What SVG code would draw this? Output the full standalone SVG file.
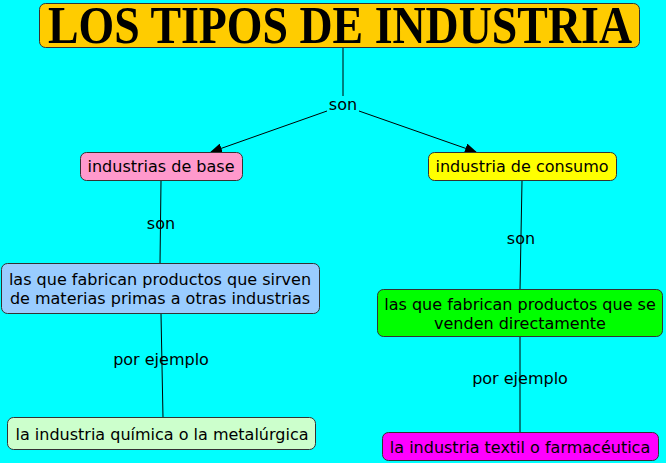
<svg xmlns="http://www.w3.org/2000/svg" width="666" height="463" viewBox="0 0 666 463">
<defs>
<style>
.node rect{stroke:#333;stroke-width:1}
.t{font-family:"DejaVu Sans",Verdana,sans-serif;font-size:16px;fill:#000;text-anchor:middle}
.lbl{font-family:"DejaVu Sans",Verdana,sans-serif;font-size:16px;fill:#000;text-anchor:middle}
.c{stroke:#000;stroke-width:1;fill:none}
</style>
<marker id="arr" markerWidth="12" markerHeight="10" refX="11" refY="5" orient="auto" markerUnits="userSpaceOnUse">
<path d="M0,0 L12,5 L0,10 z" fill="#000"/>
</marker>
</defs>
<rect x="0" y="0" width="666" height="463" fill="#00FFFF"/>
<g id="connectors">
<line class="c" x1="343" y1="48" x2="343" y2="96"/>
<line class="c" x1="327" y1="111" x2="211" y2="152" marker-end="url(#arr)"/>
<line class="c" x1="359" y1="111" x2="476" y2="152" marker-end="url(#arr)"/>
<line class="c" x1="161" y1="181" x2="160" y2="264"/>
<line class="c" x1="161" y1="314" x2="163" y2="418"/>
<line class="c" x1="522" y1="181" x2="520" y2="290"/>
<line class="c" x1="520" y1="337" x2="520" y2="432"/>
<text class="lbl" x="343" y="110">son</text>
<text class="lbl" x="161" y="229">son</text>
<text class="lbl" x="521" y="244">son</text>
<text class="lbl" x="161" y="365">por ejemplo</text>
<text class="lbl" x="520" y="384">por ejemplo</text>
</g>
<g id="title" class="node">
<rect x="39.5" y="3.5" width="600" height="44" rx="6" fill="#FFCC00"/>
<text transform="translate(340,43) scale(1,1.15)" x="0" y="0" font-family="'Liberation Serif',serif" font-weight="bold" font-size="46" text-anchor="middle" textLength="584" lengthAdjust="spacingAndGlyphs" fill="#000">LOS TIPOS DE INDUSTRIA</text>
</g>
<g id="base" class="node">
<rect x="80.5" y="152.5" width="162" height="28" rx="6" fill="#FF99CC"/>
<text class="t" x="161" y="172">industrias de base</text>
</g>
<g id="consumo" class="node">
<rect x="428.5" y="152.5" width="188" height="28" rx="6" fill="#FFFF00"/>
<text class="t" x="522" y="172">industria de consumo</text>
</g>
<g id="sirven" class="node">
<rect x="1.5" y="263.5" width="318" height="50" rx="6" fill="#99CCFF"/>
<text class="t" x="160" y="285">las que fabrican productos que sirven</text>
<text class="t" x="160" y="304">de materias primas a otras industrias</text>
</g>
<g id="quimica" class="node">
<rect x="7.5" y="417.5" width="308" height="32" rx="6" fill="#CCFFCC"/>
<text class="t" x="162" y="440">la industria química o la metalúrgica</text>
</g>
<g id="venden" class="node">
<rect x="377.5" y="289.5" width="285" height="47" rx="6" fill="#00FF00"/>
<text class="t" x="520" y="310">las que fabrican productos que se</text>
<text class="t" x="520" y="329">venden directamente</text>
</g>
<g id="textil" class="node">
<rect x="382.5" y="432.5" width="276" height="28" rx="6" fill="#FF00FF"/>
<text class="t" x="520" y="453">la industria textil o farmacéutica</text>
</g>
</svg>
